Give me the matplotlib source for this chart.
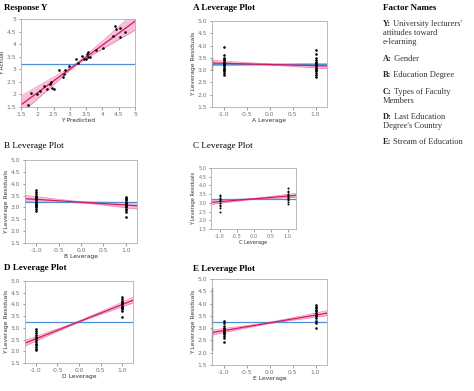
import matplotlib
matplotlib.use("Agg")
import matplotlib.pyplot as plt
import numpy as np

# ---- data ----
mean_y = 3.23

# Response Y: actual vs predicted
pred_y = [1.73, 1.81, 1.99, 2.09, 2.22, 2.29, 2.38, 2.42, 2.45, 2.52, 2.68, 2.79,
          2.81, 2.84, 2.96, 3.20, 3.24, 3.37, 3.42, 3.49, 3.54, 3.57, 3.62, 3.55,
          3.80, 4.02, 4.33, 4.38, 4.41, 4.53, 4.55, 4.68]
actual_y = [1.57, 2.07, 2.00, 2.13, 2.32, 2.23, 2.43, 2.50, 2.27, 2.23, 2.96, 2.70,
            2.80, 2.96, 3.12, 3.39, 3.26, 3.52, 3.39, 3.39, 3.60, 3.50, 3.47, 3.67,
            3.76, 3.86, 4.33, 4.72, 4.60, 4.27, 4.63, 4.48]

# leverage residuals at -1 and +1 for each factor
lev_lo = {
    "A": [3.95, 3.60, 3.50, 3.45, 3.40, 3.35, 3.30, 3.25, 3.20, 3.15, 3.10, 3.05, 3.00, 2.95, 2.90, 2.80],
    "B": [3.74, 3.65, 3.58, 3.50, 3.45, 3.40, 3.35, 3.30, 3.25, 3.20, 3.15, 3.10, 3.05, 3.00, 2.95, 2.87],
    "C": [3.46, 3.38, 3.30, 3.22, 3.15, 3.08, 3.00, 2.90, 2.80, 2.70, 2.50],
    "D": [2.94, 2.85, 2.78, 2.70, 2.62, 2.55, 2.48, 2.40, 2.33, 2.26, 2.18, 2.10, 2.04],
    "E": [3.31, 3.20, 3.10, 3.00, 2.95, 2.90, 2.85, 2.80, 2.75, 2.70, 2.60, 2.45],
}
lev_hi = {
    "A": [3.80, 3.65, 3.50, 3.40, 3.35, 3.30, 3.25, 3.20, 3.15, 3.10, 3.05, 3.00, 2.95, 2.90, 2.80, 2.72],
    "B": [3.46, 3.40, 3.35, 3.30, 3.25, 3.20, 3.15, 3.10, 3.05, 3.00, 2.95, 2.90, 2.79, 2.60],
    "C": [3.85, 3.70, 3.60, 3.52, 3.45, 3.40, 3.35, 3.30, 3.22, 3.15, 3.05, 2.94],
    "D": [4.30, 4.22, 4.15, 4.10, 4.05, 4.00, 3.95, 3.90, 3.85, 3.80, 3.70, 3.45],
    "E": [3.95, 3.85, 3.80, 3.75, 3.70, 3.62, 3.55, 3.48, 3.40, 3.30, 3.20, 3.00],
}
# fitted line value at x=-1.25 and x=+1.25
fit_ends = {"A": (3.29, 3.17), "B": (3.37, 3.07), "C": (3.03, 3.43),
            "D": (2.35, 4.18), "E": (2.82, 3.61)}
# confidence half width at centre and at the ends
band_hw = {"A": (0.03, 0.11), "B": (0.03, 0.14), "C": (0.03, 0.12),
           "D": (0.03, 0.12), "E": (0.03, 0.10)}

legend_lines = [
    ("Y:", " University lecturers'"), ("", "attitudes toward"), ("", "e-learning"),
    ("A:", " Gender"), ("B:", " Education Degree"),
    ("C:", " Types of Faculty"), ("", "Members"),
    ("D:", " Last Education"), ("", "Degree's Country"),
    ("E:", " Stream of Education"),
]
legend_y = [24, 33, 42, 59, 75, 92, 101, 117, 126, 142]

# ---- styling ----
W, H = 474, 391
RED = "#d6175f"
PINK = "#f7bfd9"
PINK_EDGE = "#ee7fb4"
BLUE = "#4f8fd6"
SERIF = "Liberation Serif"

fig = plt.figure(figsize=(W / 100, H / 100), dpi=100)


def px_axes(left, right, top, bottom):
    return fig.add_axes([left / W, 1 - bottom / H, (right - left) / W, (bottom - top) / H])


def style(ax, small=False):
    fs = 3.6 if small else 4.3
    for s in ax.spines.values():
        s.set_color("#b0b0b0")
        s.set_linewidth(0.6)
    ax.tick_params(labelsize=fs, colors="#707070", length=1.8, width=0.5, pad=1.5)
    ax.xaxis.label.set_size(fs)
    ax.yaxis.label.set_size(fs)
    ax.xaxis.label.set_color("#333333")
    ax.yaxis.label.set_color("#333333")
    ax.xaxis.labelpad = 1
    ax.yaxis.labelpad = 1.5


def fig_text(x, y, s, **kw):
    fig.text(x / W, 1 - y / H, s, va="center", ha="left", family=SERIF, **kw)


# Response Y panel
ax = px_axes(21, 135, 19, 107)
xs = np.linspace(1.5, 5, 100)
line = mean_y + 0.95 * (xs - mean_y)
hw = np.sqrt(0.04 ** 2 + 0.2 ** 2 * (xs - mean_y) ** 2)
ax.fill_between(xs, line - hw, line + hw, color=PINK, lw=0)
ax.plot(xs, line - hw, color=PINK_EDGE, lw=0.5)
ax.plot(xs, line + hw, color=PINK_EDGE, lw=0.5)
ax.axhline(mean_y, color=BLUE, lw=0.9)
ax.plot(xs, line, color=RED, lw=0.9)
ax.scatter(pred_y, actual_y, s=3.5, color="black", zorder=5, lw=0)
ax.set_xlim(1.5, 5)
ax.set_ylim(1.5, 5)
ticks = [1.5, 2, 2.5, 3, 3.5, 4, 4.5, 5]
tl = ["1.5", "2", "2.5", "3", "3.5", "4", "4.5", "5"]
ax.set_xticks(ticks, tl)
ax.set_yticks(ticks, tl)
ax.set_xlabel("Y Predicted")
ax.set_ylabel("Y Actual")
style(ax)
fig_text(4, 8, "Response Y", fontsize=6.4, fontweight="bold")

# leverage panels: (key, axes box in px, title pos, small?, bold title?, dark spine segment)
panels = [
    ("A", (212, 327, 21, 107), (193, 8), False, True, (0.43, 0.57)),
    ("B", (25, 137, 160, 243), (4, 146), False, False, None),
    ("C", (211, 296, 168, 229), (193, 146), True, False, None),
    ("D", (25, 133, 281, 363), (4, 268), False, True, None),
    ("E", (212, 327, 279, 365), (193, 269), False, True, (0.17, 0.90)),
]
for key, box, tpos, small, bold, seg in panels:
    ax = px_axes(*box)
    xs = np.linspace(-1.25, 1.25, 100)
    y0, y1 = fit_ends[key]
    line = y0 + (y1 - y0) * (xs + 1.25) / 2.5
    a, b = band_hw[key]
    hw = np.sqrt(a ** 2 + (b ** 2 - a ** 2) * (xs / 1.25) ** 2)
    ax.fill_between(xs, line - hw, line + hw, color=PINK, lw=0)
    ax.plot(xs, line - hw, color=PINK_EDGE, lw=0.5)
    ax.plot(xs, line + hw, color=PINK_EDGE, lw=0.5)
    ax.axhline(mean_y, color=BLUE, lw=0.9)
    ax.plot(xs, line, color=RED, lw=0.9)
    lo, hi = lev_lo[key], lev_hi[key]
    ax.scatter([-1.0] * len(lo) + [1.0] * len(hi), lo + hi, s=3.5 if not small else 2,
               color="black", zorder=5, lw=0)
    if seg:
        ax.axvline(-1.25, seg[0], seg[1], color="#333333", lw=0.9, clip_on=False)
    ax.set_xlim(-1.25, 1.25)
    ax.set_ylim(1.5, 5.0)
    ax.set_xticks([-1.0, -0.5, 0.0, 0.5, 1.0], ["-1.0", "-0.5", "0.0", "0.5", "1.0"])
    ax.set_yticks(np.arange(1.5, 5.01, 0.5), [f"{v:.1f}" for v in np.arange(1.5, 5.01, 0.5)])
    ax.set_xlabel(f"{key} Leverage")
    ax.set_ylabel("Y Leverage Residuals")
    style(ax, small)
    fig_text(tpos[0], tpos[1], f"{key} Leverage Plot", fontsize=6.6,
             fontweight="bold" if bold else "normal")

# factor names legend
fig_text(383, 8, "Factor Names", fontsize=6.5, fontweight="bold")
for (tag, body), y in zip(legend_lines, legend_y):
    if tag:
        t = fig.text(383 / W, 1 - y / H, tag, va="center", ha="left", family=SERIF,
                     fontsize=6, fontweight="bold", color="#222222")
        fig.canvas.draw()
        bb = t.get_window_extent()
        fig.text(bb.x1 / W, 1 - y / H, body, va="center", ha="left", family=SERIF,
                 fontsize=6, color="#333333")
    else:
        fig_text(383, y, body, fontsize=6, color="#333333")

fig.savefig("out.png", dpi=100)
